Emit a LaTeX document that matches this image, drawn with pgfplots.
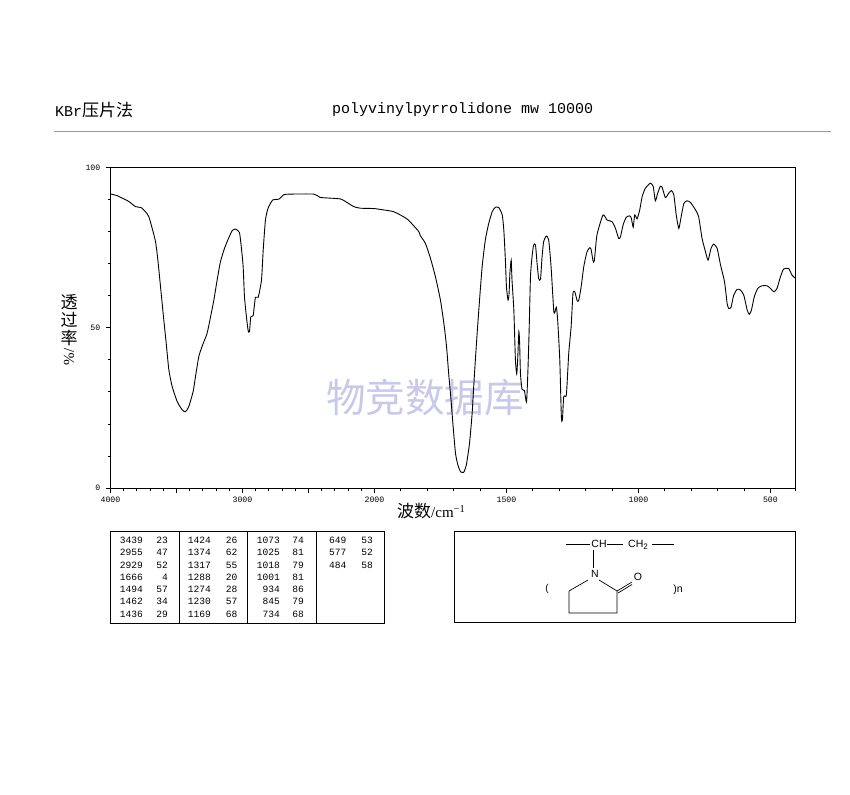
\documentclass[border=0pt]{standalone}
\usepackage{fontspec}
\usepackage{pgfplots}
\pgfplotsset{compat=1.18}
\setmainfont{Liberation Mono}
\newfontfamily\cjk{Noto Sans CJK SC}
\newfontfamily\serif{Liberation Serif}
\newfontfamily\sans{Liberation Sans}
\definecolor{wm}{RGB}{200,200,235}
\begin{document}
\begin{tikzpicture}
\begin{scope}[x=1pt,y=-1pt]
\path[use as bounding box] (0,0) rectangle (850,794);
\node[anchor=west,inner sep=0pt] at (55,110) {\fontsize{15}{17}\selectfont KBr{\cjk\fontsize{17}{19}\selectfont 压片法}};
\node[anchor=west,inner sep=0pt] at (332,110) {\fontsize{15}{17}\selectfont polyvinylpyrrolidone mw 10000};
\draw[gray!80,line width=1.3pt] (54,131.5) -- (831,131.5);
\node[inner sep=0pt,text=wm] at (425,397) {\cjk\fontsize{39.6}{42}\selectfont 物竞数据库};
\node[inner sep=0pt] at (69,302) {\cjk\fontsize{17}{19}\selectfont 透};
\node[inner sep=0pt] at (69,320) {\cjk\fontsize{17}{19}\selectfont 过};
\node[inner sep=0pt] at (69,338) {\cjk\fontsize{17}{19}\selectfont 率};
\node[inner sep=0pt,rotate=90] at (69,357) {\serif\fontsize{15}{17}\selectfont \%/};
\node[anchor=west,inner sep=0pt] at (397,511) {{\cjk\fontsize{17}{19}\selectfont 波数}{\serif\fontsize{15}{17}\selectfont /cm\textsuperscript{−1}}};
% peak table
\draw[line width=1pt] (110.7,531.7) rectangle (384.5,623.3);
\draw[line width=1pt] (179.3,531.7) -- (179.3,623.3) (247.3,531.7) -- (247.3,623.3) (316.3,531.7) -- (316.3,623.3);
\foreach \y/\a/\b/\c/\d/\e/\f/\g/\h in {
540.7/3439/23/1424/26/1073/74/649/53,
552.7/2955/47/1374/62/1025/81/577/52,
565/2929/52/1317/55/1018/79/484/58,
577.3/1666/4/1288/20/1001/81//,
589.3/1494/57/1274/28/934/86//,
601.7/1462/34/1230/57/845/79//,
614/1436/29/1169/68/734/68//}{
\foreach \px/\t in {143/\a,168/\b,211/\c,237.5/\d,280/\e,304/\f,346.5/\g,373/\h}{
\node[anchor=east,inner sep=0pt] at (\px,\y) {\fontsize{9.6}{11}\selectfont\t};
}}
% structure
\draw[line width=1pt] (454,531.7) rectangle (795,622.7);
\draw[line width=0.7pt] (566,544) -- (590,544) (607,544) -- (623,544) (652,544) -- (674,544);
\draw[line width=0.7pt] (593,550) -- (593,568);
\draw[line width=0.7pt] (588,580) -- (569,591) -- (569,613) -- (617,613) -- (617,591) -- (599,580);
\draw[line width=0.7pt] (617,591) -- (632,582) (618,593) -- (632,584.5);
\node[inner sep=0pt] at (599,544) {\sans\fontsize{10.5}{12}\selectfont CH};
\node[inner sep=0pt] at (638,545) {\sans\fontsize{10.5}{12}\selectfont CH\raisebox{-2pt}{\fontsize{8}{9}\selectfont 2}};
\node[inner sep=0pt] at (595,574) {\sans\fontsize{10.5}{12}\selectfont N};
\node[inner sep=0pt] at (638,577) {\sans\fontsize{10.5}{12}\selectfont O};
\node[inner sep=0pt] at (547,589) {\sans\fontsize{10}{12}\selectfont (};
\node[inner sep=0pt] at (678,590) {\sans\fontsize{10.5}{12}\selectfont )n};
\end{scope}
\begin{axis}[
  at={(110.5pt,-488pt)},anchor=south west,
  scale only axis,width=685pt,height=320.5pt,
  x coord trafo/.code={\pgfmathparse{#1>=2000 ? (4000-#1)*0.132 : 264+(2000-#1)*0.264}},
  xmin=4000,xmax=405,ymin=0,ymax=100,
  axis line style={line width=1pt},
  tick style={black,line width=0.8pt},
  tick align=outside,xtick pos=bottom,ytick pos=left,
  major tick length=5pt,minor tick length=2.5pt,
  xtick={4000,3500,3000,2500,2000,1500,1000,500},
  xticklabels={4000,,3000,,2000,1500,1000,500},
  minor xtick={3900,3800,3700,3600,3400,3300,3200,3100,2900,2800,2700,2600,2400,2300,2200,2100,1900,1800,1700,1600,1400,1300,1200,1100,900,800,700,600,405},
  ytick={0,50,100},yticklabels={0,50,100},
  minor ytick={10,20,30,40,60,70,80,90},
  tick label style={font=\fontsize{8.2}{9}\selectfont,inner sep=0pt},
  xticklabel style={yshift=-4pt},
  yticklabel style={xshift=-5pt},
  clip=true,
]
\addplot[black,line width=0.9pt,smooth,tension=0.35] table {
3995 91.7
3949 91.2
3924 90.7
3861 89.4
3811 87.8
3768 87.5
3735 86.2
3710 84.7
3684 81.0
3659 76.9
3641 71.1
3621 62.8
3596 52.4
3578 45.2
3558 36.9
3533 31.7
3495 27.0
3457 24.4
3432 23.8
3407 25.4
3374 30.1
3356 34.8
3331 41.0
3306 44.2
3268 48.3
3242 53.4
3217 58.6
3192 64.9
3167 70.6
3136 74.8
3111 77.4
3078 80.3
3053 80.8
3023 79.7
3008 74.8
2995 69.1
2985 59.7
2970 53.4
2957 49.1
2947 48.8
2937 53.4
2919 53.8
2902 59.5
2881 59.5
2856 64.9
2843 74.3
2826 83.6
2806 87.3
2770 89.9
2725 90.1
2687 91.5
2637 91.7
2460 91.7
2414 90.7
2359 90.5
2258 90.2
2220 89.4
2157 87.8
2106 87.3
2005 87.2
1977 86.9
1927 86.2
1876 83.9
1832 80.0
1826 78.7
1807 76.3
1788 71.7
1769 65.9
1750 58.6
1737 51.3
1727 44.2
1719 35.8
1710 27.5
1702 19.2
1693 10.8
1684 7.2
1674 5.1
1662 4.9
1652 7.2
1640 13.9
1630 23.3
1621 35.8
1611 48.3
1601 59.7
1592 69.1
1580 77.4
1567 82.6
1554 86.2
1542 87.6
1529 87.5
1516 85.2
1510 80.5
1504 71.1
1500 62.8
1494 58.6
1490 60.7
1487 67.0
1482 71.1
1479 64.9
1472 55.5
1466 40.0
1461 35.6
1457 41.0
1453 48.8
1450 45.2
1447 35.8
1441 30.8
1432 30.4
1424 26.8
1419 35.8
1414 49.4
1409 65.9
1403 72.2
1397 75.8
1390 75.8
1384 70.1
1378 65.4
1371 65.1
1365 72.2
1359 76.9
1349 78.6
1340 77.4
1331 69.1
1321 55.5
1317 54.7
1311 56.4
1306 52.4
1298 40.0
1292 22.3
1288 21.2
1283 28.5
1273 29.1
1264 42.1
1255 50.3
1248 60.7
1241 61.2
1232 58.4
1226 58.6
1217 62.8
1207 69.1
1195 73.7
1184 75.0
1179 74.3
1172 70.9
1167 70.9
1157 79.0
1134 85.2
1119 83.6
1100 83.1
1087 81.0
1075 77.9
1068 78.4
1058 82.1
1046 84.5
1033 84.9
1027 84.2
1020 81.4
1014 85.2
1005 84.0
995 86.8
986 90.9
974 93.5
955 95.1
944 94.1
936 89.6
927 92.0
917 94.1
910 93.8
898 90.6
885 92.0
875 92.8
866 91.5
856 84.7
847 81.0
838 84.7
828 88.8
816 89.6
803 89.1
784 86.8
772 84.7
759 77.9
746 73.7
736 71.1
725 74.8
715 76.1
702 74.8
689 69.6
674 64.4
664 57.6
658 56.0
649 56.4
639 60.2
626 62.0
614 61.8
601 60.2
588 55.5
580 54.2
572 55.5
561 59.7
548 62.3
532 63.1
513 63.1
500 62.3
487 61.2
475 62.3
462 65.9
450 68.3
431 68.5
418 66.4
405 65.4
};
\end{axis}
\end{tikzpicture}
\end{document}
